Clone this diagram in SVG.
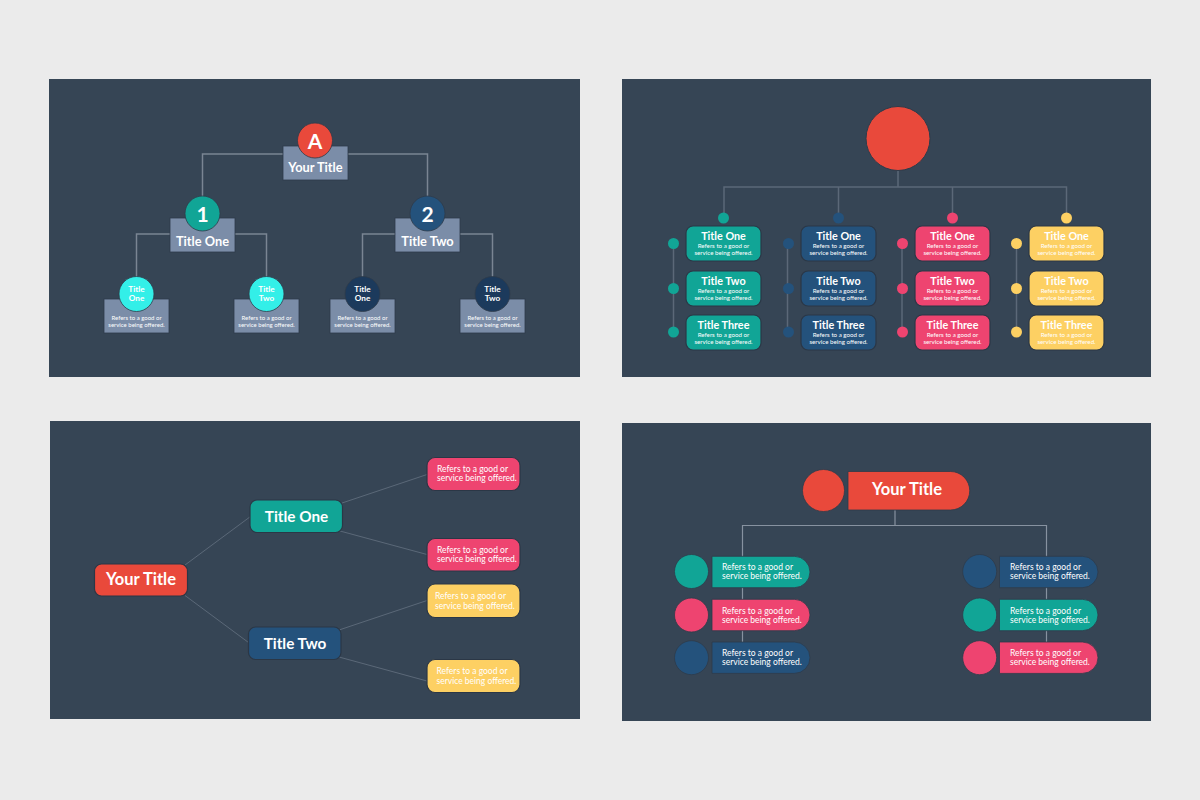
<svg xmlns="http://www.w3.org/2000/svg" width="1200" height="800" viewBox="0 0 1200 800">
<style>
.panel{fill:#364555}
.t{font-family:Lato,"Liberation Sans",sans-serif;fill:#ffffff}
.b{font-weight:700}
.c{text-anchor:middle}
.box1{fill:#7b8da8;stroke:#2e3b4a;stroke-width:0.8}
.ln1{fill:none;stroke:#7a8593;stroke-width:1.5}
.ln2{fill:none;stroke:#5b6878;stroke-width:1.5}
.ln3{fill:none;stroke:#5f6c7c;stroke-width:0.9}
.ln4{fill:none;stroke:#8792a0;stroke-width:1.2}
.teal{fill:#11a596}
.navy{fill:#24527c}
.pink{fill:#ee4470}
.yel{fill:#fdd063}
.red{fill:#e9493b}
.cyan{fill:#33efe8}
.dnavy{fill:#1c3a5c}
.card{stroke:#2b3746;stroke-width:1.2}
</style>
<rect x="0" y="0" width="1200" height="800" fill="#ebebeb"/>
<rect class="panel" x="49" y="79" width="531" height="298"/>
<rect class="panel" x="622" y="79" width="529" height="298"/>
<rect class="panel" x="50" y="421" width="530" height="298"/>
<rect class="panel" x="622" y="423" width="529" height="298"/>

<g id="connectors">
  <!-- panel 1 -->
  <path class="ln1" d="M283 154 H202.5 V196 M348 154 H427.5 V196"/>
  <path class="ln1" d="M170 234 H136.5 V277 M235 234 H266.5 V277"/>
  <path class="ln1" d="M395 234 H362.5 V277 M460 234 H492.5 V277"/>
  <!-- panel 2 -->
  <path class="ln2" d="M898 170 V187 M724 218 V187 H1066.5 V218 M838.5 187 V218 M952.5 187 V218"/>
  <path class="ln2" d="M673.5 243.5 V332.5 M787.5 243.5 V332.5 M902 243.5 V332.5 M1016.5 243.5 V332.5"/>
  <!-- panel 3 -->
  <path class="ln3" d="M185 565 L250.5 516.5 M185 595.5 L248.5 642.5"/>
  <path class="ln3" d="M342 503 L427 474.5 M340 531 L427 554.5 M339 630 L427 600.5 M339 657 L427 681"/>
  <!-- panel 4 -->
  <path class="ln4" d="M895 510 V525.5 M742.5 658 V525.5 H1046.5 V658"/>
</g>

<!-- ===== Panel 1 ===== -->
<g id="p1-root">
  <rect class="box1" x="283" y="146" width="65" height="34"/>
  <circle class="red" cx="315" cy="140.5" r="17.5" stroke="#2e3b4a" stroke-width="0.8"/>
  <text class="t b c" x="315" y="148.5" font-size="21">A</text>
  <text class="t b c" x="315.5" y="171.5" font-size="12.8">Your Title</text>
</g>
<g id="p1-n1">
  <rect class="box1" x="170" y="218" width="65" height="34"/>
  <circle class="teal" cx="202.5" cy="213.5" r="17.5" stroke="#2e3b4a" stroke-width="0.8"/>
  <text class="t b c" x="202.5" y="221.5" font-size="21">1</text>
  <text class="t b c" x="202.5" y="246" font-size="12.8">Title One</text>
</g>
<g id="p1-n2">
  <rect class="box1" x="395" y="218" width="65" height="34"/>
  <circle class="navy" cx="427.5" cy="213.5" r="17.5" stroke="#2e3b4a" stroke-width="0.8"/>
  <text class="t b c" x="427.5" y="221.5" font-size="21">2</text>
  <text class="t b c" x="427.5" y="246" font-size="12.8">Title Two</text>
</g>
<g id="p1-n11">
  <rect class="box1" x="104" y="299" width="65" height="34"/>
  <circle class="cyan" cx="136.5" cy="294" r="17.5" stroke="#2e3b4a" stroke-width="0.8"/>
  <text class="t b c" x="136.5" y="292" font-size="8.2">Title</text>
  <text class="t b c" x="136.5" y="301" font-size="8.2">One</text>
  <text class="t c" x="136.5" y="320" font-size="6">Refers to a good or</text>
  <text class="t c" x="136.5" y="326.7" font-size="6">service being offered.</text>
</g>
<g id="p1-n12">
  <rect class="box1" x="234" y="299" width="65" height="34"/>
  <circle class="cyan" cx="266.5" cy="294" r="17.5" stroke="#2e3b4a" stroke-width="0.8"/>
  <text class="t b c" x="266.5" y="292" font-size="8.2">Title</text>
  <text class="t b c" x="266.5" y="301" font-size="8.2">Two</text>
  <text class="t c" x="266.5" y="320" font-size="6">Refers to a good or</text>
  <text class="t c" x="266.5" y="326.7" font-size="6">service being offered.</text>
</g>
<g id="p1-n21">
  <rect class="box1" x="330" y="299" width="65" height="34"/>
  <circle class="dnavy" cx="362.5" cy="294" r="17.5" stroke="#2e3b4a" stroke-width="0.8"/>
  <text class="t b c" x="362.5" y="292" font-size="8.2">Title</text>
  <text class="t b c" x="362.5" y="301" font-size="8.2">One</text>
  <text class="t c" x="362.5" y="320" font-size="6">Refers to a good or</text>
  <text class="t c" x="362.5" y="326.7" font-size="6">service being offered.</text>
</g>
<g id="p1-n22">
  <rect class="box1" x="460" y="299" width="65" height="34"/>
  <circle class="dnavy" cx="492.5" cy="294" r="17.5" stroke="#2e3b4a" stroke-width="0.8"/>
  <text class="t b c" x="492.5" y="292" font-size="8.2">Title</text>
  <text class="t b c" x="492.5" y="301" font-size="8.2">Two</text>
  <text class="t c" x="492.5" y="320" font-size="6">Refers to a good or</text>
  <text class="t c" x="492.5" y="326.7" font-size="6">service being offered.</text>
</g>

<!-- ===== Panel 2 ===== -->
<g id="p2-root">
  <circle class="red" cx="898" cy="138.5" r="32" stroke="#2e3b4a" stroke-width="1"/>
</g>
<defs>
  <g id="cards-col">
    <rect class="card" x="0" y="0" width="75" height="35" rx="7"/>
    <text class="t b c" x="37.5" y="14" font-size="10.8">Title One</text>
    <text class="t c" x="37.5" y="22.3" font-size="6.2">Refers to a good or</text>
    <text class="t c" x="37.5" y="29" font-size="6.2">service being offered.</text>
    <rect class="card" x="0" y="45" width="75" height="35" rx="7"/>
    <text class="t b c" x="37.5" y="59" font-size="10.8">Title Two</text>
    <text class="t c" x="37.5" y="67.3" font-size="6.2">Refers to a good or</text>
    <text class="t c" x="37.5" y="74" font-size="6.2">service being offered.</text>
    <rect class="card" x="0" y="89" width="75" height="35" rx="7"/>
    <text class="t b c" x="37.5" y="102.5" font-size="10.8">Title Three</text>
    <text class="t c" x="37.5" y="111.3" font-size="6.2">Refers to a good or</text>
    <text class="t c" x="37.5" y="118" font-size="6.2">service being offered.</text>
    <circle cx="37.5" cy="-8" r="5.5"/>
    <circle cx="-12.5" cy="17.5" r="5.5"/>
    <circle cx="-12.5" cy="62.5" r="5.5"/>
    <circle cx="-12.5" cy="106" r="5.5"/>
  </g>
</defs>
<g id="p2-col1" class="teal">
  <use href="#cards-col" x="686" y="226"/>
</g>
<g id="p2-col2" class="navy">
  <use href="#cards-col" x="801" y="226"/>
</g>
<g id="p2-col3" class="pink">
  <use href="#cards-col" x="915" y="226"/>
</g>
<g id="p2-col4" class="yel">
  <use href="#cards-col" x="1029" y="226"/>
</g>

<!-- ===== Panel 3 ===== -->
<g id="p3-root">
  <rect class="red card" x="94.5" y="564" width="93" height="32" rx="7"/>
  <text class="t b c" x="141" y="584.5" font-size="16.5">Your Title</text>
</g>
<g id="p3-t1">
  <rect class="teal card" x="250" y="500" width="92.5" height="32.5" rx="7"/>
  <text class="t b c" x="296.5" y="522" font-size="15.3">Title One</text>
</g>
<g id="p3-t2">
  <rect class="navy card" x="248.5" y="627" width="92.5" height="32.5" rx="7"/>
  <text class="t b c" x="295" y="649" font-size="15.3">Title Two</text>
</g>
<g id="p3-d1">
  <rect class="pink card" x="427" y="457.5" width="93" height="33" rx="8"/>
  <text class="t" x="437" y="472" font-size="8.5">Refers to a good or</text>
  <text class="t" x="437" y="481.3" font-size="8.5">service being offered.</text>
</g>
<g id="p3-d2">
  <rect class="pink card" x="427" y="538.5" width="93" height="32.5" rx="8"/>
  <text class="t" x="437" y="553" font-size="8.5">Refers to a good or</text>
  <text class="t" x="437" y="562.3" font-size="8.5">service being offered.</text>
</g>
<g id="p3-d3">
  <rect class="yel card" x="427" y="584" width="93" height="33.5" rx="8"/>
  <text class="t" x="435" y="599.3" font-size="8.5">Refers to a good or</text>
  <text class="t" x="435" y="608.7" font-size="8.5">service being offered.</text>
</g>
<g id="p3-d4">
  <rect class="yel card" x="427" y="659.5" width="93" height="33" rx="8"/>
  <text class="t" x="436.5" y="674.3" font-size="8.5">Refers to a good or</text>
  <text class="t" x="436.5" y="683.7" font-size="8.5">service being offered.</text>
</g>

<!-- ===== Panel 4 ===== -->
<g id="p4-root">
  <circle class="red" cx="823.5" cy="490.5" r="21" stroke="#2e3b4a" stroke-width="0.8"/>
  <path class="red" d="M848 471.5 H950.5 A19.25 19.25 0 0 1 950.5 510 H848 Z" stroke="#2e3b4a" stroke-width="0.8"/>
  <text class="t b c" x="907" y="495" font-size="16.5">Your Title</text>
</g>
<g id="p4-l1">
  <circle class="teal" cx="691.5" cy="571.5" r="17" stroke="#2e3b4a" stroke-width="0.8"/>
  <path class="teal" d="M712 556.3 H794.3 A15.7 15.7 0 0 1 794.3 587.7 H712 Z" stroke="#2e3b4a" stroke-width="0.8"/>
  <text class="t" x="722" y="570" font-size="8.5">Refers to a good or</text>
  <text class="t" x="722" y="579.3" font-size="8.5">service being offered.</text>
</g>
<g id="p4-l2">
  <circle class="pink" cx="691.5" cy="615" r="17" stroke="#2e3b4a" stroke-width="0.8"/>
  <path class="pink" d="M712 599.3 H794.3 A15.7 15.7 0 0 1 794.3 630.7 H712 Z" stroke="#2e3b4a" stroke-width="0.8"/>
  <text class="t" x="722" y="613.7" font-size="8.5">Refers to a good or</text>
  <text class="t" x="722" y="623" font-size="8.5">service being offered.</text>
</g>
<g id="p4-l3">
  <circle class="navy" cx="691.5" cy="657.7" r="17" stroke="#2e3b4a" stroke-width="0.8"/>
  <path class="navy" d="M712 642 H794.3 A15.7 15.7 0 0 1 794.3 673.4 H712 Z" stroke="#2e3b4a" stroke-width="0.8"/>
  <text class="t" x="722" y="656" font-size="8.5">Refers to a good or</text>
  <text class="t" x="722" y="665.3" font-size="8.5">service being offered.</text>
</g>
<g id="p4-r1">
  <circle class="navy" cx="979.7" cy="571.5" r="17" stroke="#2e3b4a" stroke-width="0.8"/>
  <path class="navy" d="M999.5 556.3 H1082.3 A15.7 15.7 0 0 1 1082.3 587.7 H999.5 Z" stroke="#2e3b4a" stroke-width="0.8"/>
  <text class="t" x="1010" y="570" font-size="8.5">Refers to a good or</text>
  <text class="t" x="1010" y="579.3" font-size="8.5">service being offered.</text>
</g>
<g id="p4-r2">
  <circle class="teal" cx="979.7" cy="615" r="17" stroke="#2e3b4a" stroke-width="0.8"/>
  <path class="teal" d="M999.5 599.3 H1082.3 A15.7 15.7 0 0 1 1082.3 630.7 H999.5 Z" stroke="#2e3b4a" stroke-width="0.8"/>
  <text class="t" x="1010" y="613.7" font-size="8.5">Refers to a good or</text>
  <text class="t" x="1010" y="623" font-size="8.5">service being offered.</text>
</g>
<g id="p4-r3">
  <circle class="pink" cx="979.7" cy="657.7" r="17" stroke="#2e3b4a" stroke-width="0.8"/>
  <path class="pink" d="M999.5 642 H1082.3 A15.7 15.7 0 0 1 1082.3 673.4 H999.5 Z" stroke="#2e3b4a" stroke-width="0.8"/>
  <text class="t" x="1010" y="656" font-size="8.5">Refers to a good or</text>
  <text class="t" x="1010" y="665.3" font-size="8.5">service being offered.</text>
</g>
</svg>
